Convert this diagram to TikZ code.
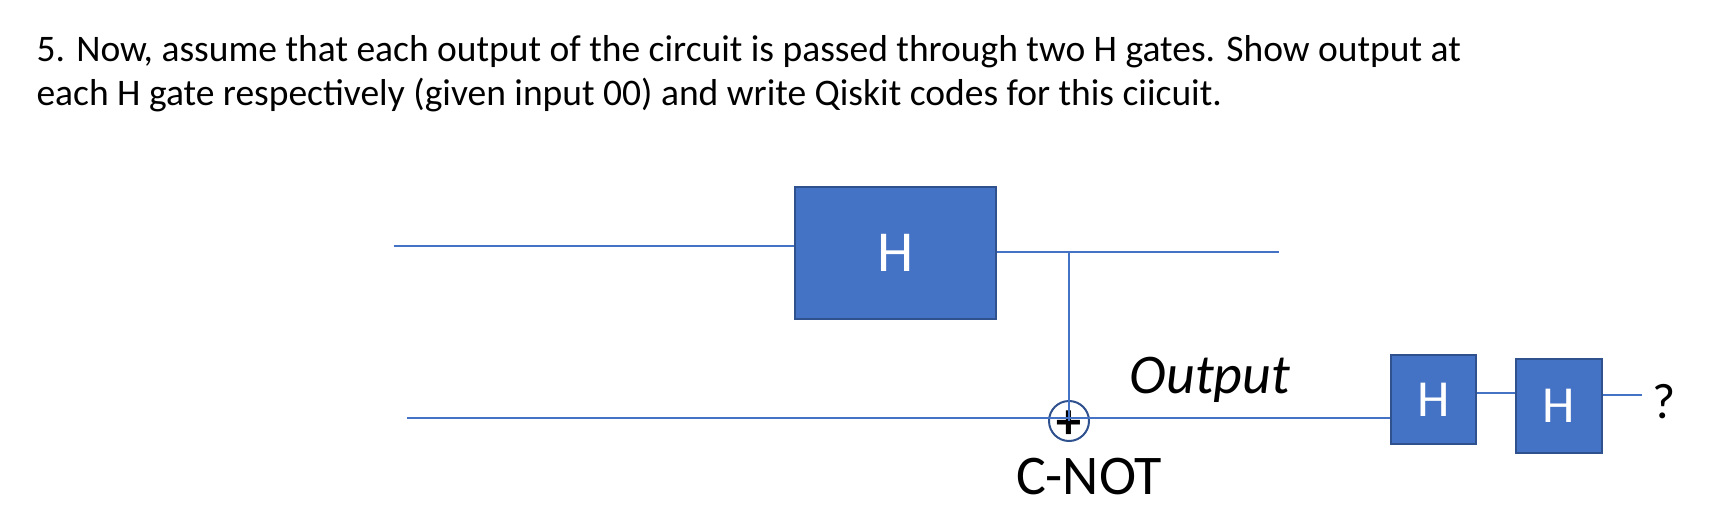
\documentclass[tikz,border=0pt]{standalone}
\usepackage{fontspec}
\setmainfont{Carlito}
\begin{document}
\begin{tikzpicture}[x=1pt,y=-1pt,
  gate/.style={draw=hbord,fill=hfill,line width=2pt,text=white,inner sep=0pt},
  wire/.style={draw=hfill,line width=1.3pt}]
\definecolor{hfill}{HTML}{4472C4}
\definecolor{hbord}{HTML}{2F528F}
\useasboundingbox (0,0) rectangle (1716,524);
\node[anchor=base west,font=\fontsize{37.5}{40}\selectfont,align=left] (t1) at (33,62) {5. Now, assume that each output of the circuit is passed through two H gates. Show output at};
\node[anchor=base west,font=\fontsize{37.5}{40}\selectfont,align=left] (t2) at (33,106) {each H gate respectively (given input 00) and write Qiskit codes for this ciicuit.};
\node[gate,minimum width=201pt,minimum height=132pt,font=\fontsize{58}{58}\selectfont] (H0) at (895.5,253) {H};
\node[gate,minimum width=85pt,minimum height=89pt,font=\fontsize{52}{52}\selectfont] (H1) at (1433.5,399.5) {H};
\node[gate,minimum width=86pt,minimum height=94pt,font=\fontsize{52}{52}\selectfont] (H2) at (1559,406) {H};
\coordinate (a0) at (394,246);
\coordinate (b0) at (407,418);
\coordinate (a1) at (1279,252);
\coordinate (c) at (1069,252);
\node[circle,draw=hbord,line width=2pt,minimum size=40pt,inner sep=0pt] (x) at (1069,421) {};
\node[font=\fontsize{50}{50}\selectfont\bfseries] (plus) at (1069,425) {+};
\coordinate (q) at (1642,395);
\draw[wire] (a0) -- (a0 -| H0.west);
\draw[wire] (H0.east |- a1) -- (a1);
\draw[wire] (c) -- (x.center);
\draw[wire] (b0) -- (b0 -| H1.west);
\draw[wire] (H1.east |- 0,393) -- (H2.west |- 0,393);
\draw[wire] (H2.east |- q) -- (q);
\node[font=\fontsize{56}{56}\selectfont\itshape] (out) at (1210,380) {Output};
\node[font=\fontsize{56}{56}\selectfont] (cn) at (1089,477) {C-NOT};
\node[font=\fontsize{50}{50}\selectfont] (qm) at (1664,402) {?};
\end{tikzpicture}
\end{document}
